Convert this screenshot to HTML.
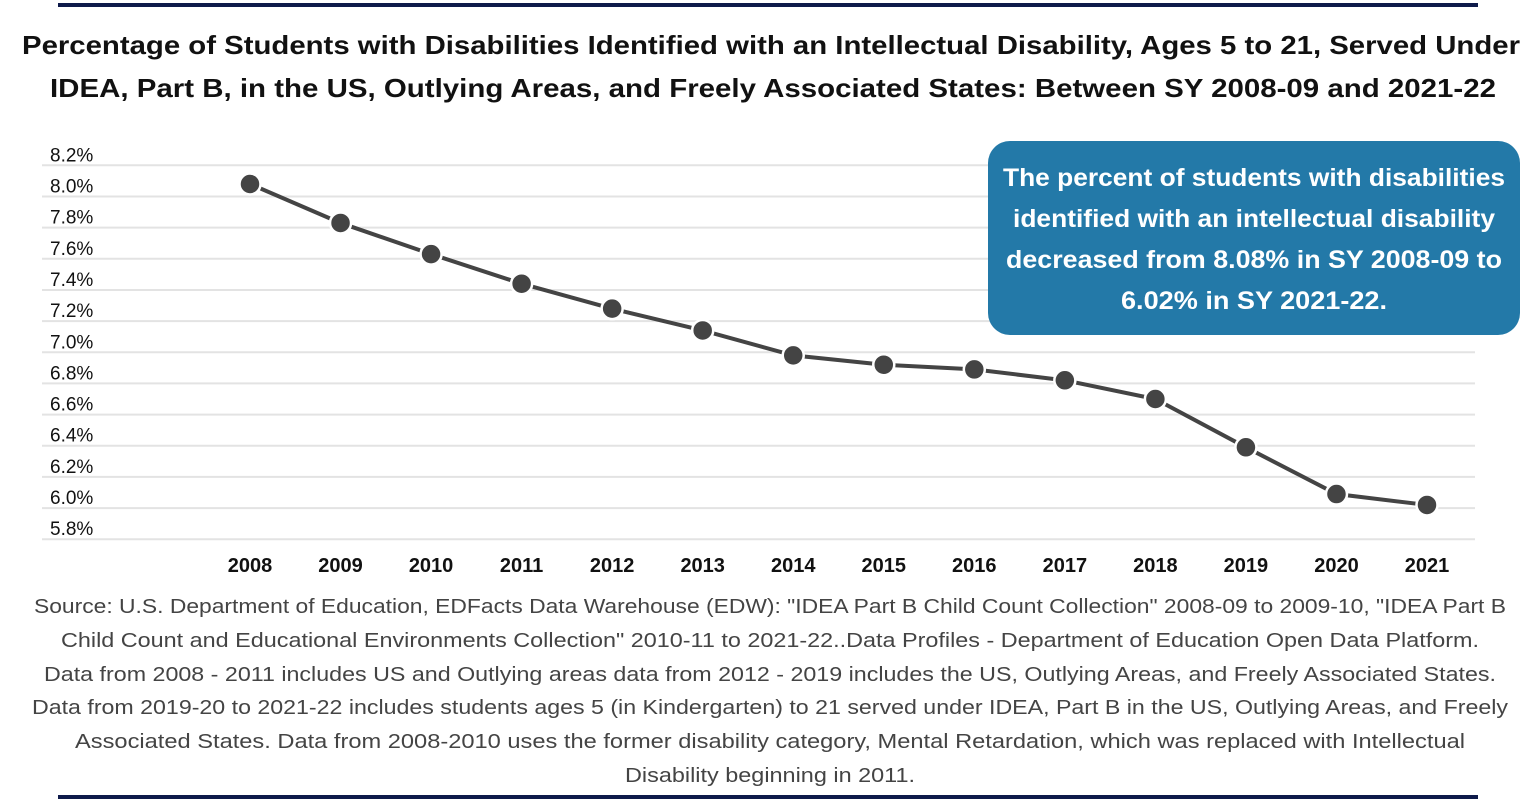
<!DOCTYPE html>
<html><head><meta charset="utf-8"><style>
html,body{margin:0;padding:0;background:#fff;}
svg{display:block;font-family:"Liberation Sans",sans-serif;}
</style></head><body>
<svg width="1536" height="810" viewBox="0 0 1536 810">
<line x1="58" y1="5" x2="1478" y2="5" stroke="#0e1a4a" stroke-width="4"/>
<line x1="58" y1="797" x2="1478" y2="797" stroke="#0e1a4a" stroke-width="4"/>
<g font-weight="bold" font-size="26" fill="#111" text-anchor="middle">
<text x="771" y="54" textLength="1498" lengthAdjust="spacingAndGlyphs">Percentage of Students with Disabilities Identified with an Intellectual Disability, Ages 5 to 21, Served Under</text>
<text x="773" y="97" textLength="1446" lengthAdjust="spacingAndGlyphs">IDEA, Part B, in the US, Outlying Areas, and Freely Associated States: Between SY 2008-09 and 2021-22</text>
</g>
<g id="grid"></g>
<g id="yticks"></g>
<g id="xticks"></g>
<g id="series"></g>
<g>
<rect x="988" y="141" width="532" height="194" rx="22" fill="#2379a8"/>
<g font-weight="bold" font-size="25" fill="#fff" text-anchor="middle">
<text x="1254" y="186" textLength="502" lengthAdjust="spacingAndGlyphs">The percent of students with disabilities</text>
<text x="1254" y="227" textLength="482" lengthAdjust="spacingAndGlyphs">identified with an intellectual disability</text>
<text x="1254" y="268" textLength="496" lengthAdjust="spacingAndGlyphs">decreased from 8.08% in SY 2008-09 to</text>
<text x="1254" y="309" textLength="266" lengthAdjust="spacingAndGlyphs">6.02% in SY 2021-22.</text>
</g></g>
<g font-size="20" fill="#444" text-anchor="middle">
<text x="770" y="613" textLength="1472" lengthAdjust="spacingAndGlyphs">Source: U.S. Department of Education, EDFacts Data Warehouse (EDW): "IDEA Part B Child Count Collection" 2008-09 to 2009-10, "IDEA Part B</text>
<text x="770" y="647" textLength="1418" lengthAdjust="spacingAndGlyphs">Child Count and Educational Environments Collection" 2010-11 to 2021-22..Data Profiles - Department of Education Open Data Platform.</text>
<text x="770" y="681" textLength="1452" lengthAdjust="spacingAndGlyphs">Data from 2008 - 2011 includes US and Outlying areas data from 2012 - 2019 includes the US, Outlying Areas, and Freely Associated States.</text>
<text x="770" y="714" textLength="1476" lengthAdjust="spacingAndGlyphs">Data from 2019-20 to 2021-22 includes students ages 5 (in Kindergarten) to 21 served under IDEA, Part B in the US, Outlying Areas, and Freely</text>
<text x="770" y="748" textLength="1390" lengthAdjust="spacingAndGlyphs">Associated States. Data from 2008-2010 uses the former disability category, Mental Retardation, which was replaced with Intellectual</text>
<text x="770" y="782" textLength="290" lengthAdjust="spacingAndGlyphs">Disability beginning in 2011.</text>
</g>
</svg>
<script>
const years = [2008,2009,2010,2011,2012,2013,2014,2015,2016,2017,2018,2019,2020,2021];
const values = [8.08,7.83,7.63,7.44,7.28,7.14,6.98,6.92,6.89,6.82,6.70,6.39,6.09,6.02];
const yTicks = [5.8,6.0,6.2,6.4,6.6,6.8,7.0,7.2,7.4,7.6,7.8,8.0,8.2];
const NS="http://www.w3.org/2000/svg";
function xs(i){return 250+i*(1427-250)/(years.length-1);}
function ys(v){return 184+(8.08-v)*155.8;}
function mk(t,a,p){const e=document.createElementNS(NS,t);for(const k in a)e.setAttribute(k,a[k]);p.appendChild(e);return e;}
const grid=document.getElementById('grid'),yt=document.getElementById('yticks'),xt=document.getElementById('xticks'),se=document.getElementById('series');
yTicks.forEach(v=>{
 const y=ys(v);
 const l=mk('line',{x1:42,x2:1475,y1:y,y2:y,stroke:'#e3e3e3','stroke-width':2},grid);
 
 
 const t=mk('text',{x:50,y:y-4,'font-size':19,fill:'#111'},yt);
 t.textContent=v.toFixed(1)+'%';
 
 
});
years.forEach((yr,i)=>{
 const t=mk('text',{x:xs(i),y:572,'font-size':20,'font-weight':'bold',fill:'#111','text-anchor':'middle'},xt);
 t.textContent=yr;
 
 
});
const pts=values.map((v,i)=>xs(i)+','+ys(v)).join(' ');
const pl=mk('polyline',{points:pts,fill:'none',stroke:'#444','stroke-width':4},se);


values.forEach((v,i)=>{
 const c=mk('circle',{cx:xs(i),cy:ys(v),r:10.5,fill:'#444',stroke:'#fff','stroke-width':2.5},se);
 
 
});
</script>
</body></html>
